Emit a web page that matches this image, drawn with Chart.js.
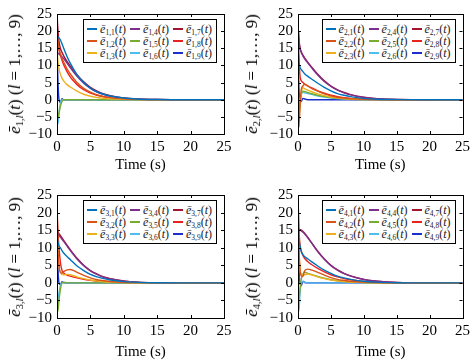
<!DOCTYPE html>
<html>
<head>
<meta charset="utf-8">
<script src="https://cdn.jsdelivr.net/npm/chart.js@4/dist/chart.umd.min.js"></script>
<style>
  body { margin: 0; width: 474px; height: 361px; background: #fff; position: relative; overflow: hidden; font-family: "Liberation Serif", serif; }
  .panel { position: absolute; }
  .panel canvas { position: absolute; left: 0; top: 0; }
  .ylab { position: absolute; white-space: nowrap; font-size: 17px; color: #000; transform: translate(-50%, -50%) rotate(-90deg); }
  sub { font-size: 0.62em; vertical-align: -0.3em; line-height: 0; }
  .legend { position: absolute; border: 1px solid #000; background: #fff; display: grid; grid-template-rows: repeat(3, 12px); grid-auto-flow: column; column-gap: 4px; padding: 3px 4px 3px 3px; font-size: 12px; line-height: 12px; color: #222; }
  .item { display: flex; align-items: center; white-space: nowrap; }
  .swatch { width: 10px; height: 1.5px; margin-right: 3px; }
</style>
</head>
<body>
<script>
// sample times (s)
const times = [0, 0.15, 0.3, 0.5, 0.75, 1, 1.5, 2, 3, 4, 5, 6, 7, 8, 10, 12, 15, 20, 25];

const colors = ['#0072BD', '#D95319', '#EDB120', '#7E2F8E', '#77AC30', '#4DBEEE', '#A2142F', '#E8221E', '#1A2FCC'];

// agent 1, l = 1..9
const e1 = [
  [18.5, 18.3, 18, 17.5, 16.3, 15, 12.6, 10.6, 7.3, 5, 3.4, 2.3, 1.6, 1.1, 0.5, 0.2, 0.05, 0, 0],
  [20, 17, 15, 13.5, 12, 11, 9, 7.5, 5, 3.3, 2.2, 1.4, 0.9, 0.6, 0.25, 0.1, 0.02, 0, 0],
  [15, 11, 9, 7.5, 6.3, 5.5, 4.4, 3.7, 2.5, 1.6, 1, 0.65, 0.4, 0.25, 0.1, 0.04, 0, 0, 0],
  [14, 13.6, 13.3, 13, 12.5, 12, 10.7, 9.3, 6.8, 4.8, 3.3, 2.2, 1.5, 1, 0.45, 0.2, 0.05, 0, 0],
  [0, -5, -4, -2, -0.5, 0, 0, 0, 0, 0, 0, 0, 0, 0, 0, 0, 0, 0, 0],
  [0, -7, -4, -1, 0, 0, 0, 0, 0, 0, 0, 0, 0, 0, 0, 0, 0, 0, 0],
  [25, 20, 17, 15, 13.8, 12.8, 11.2, 9.8, 7.2, 5.2, 3.6, 2.5, 1.7, 1.2, 0.5, 0.2, 0.05, 0, 0],
  [22, 17, 14.5, 13, 11.5, 10.2, 8.2, 6.6, 4.4, 2.9, 1.9, 1.3, 0.85, 0.55, 0.23, 0.1, 0.02, 0, 0],
  [15, 5, 0, -0.8, 0.3, 0, 0, 0, 0, 0, 0, 0, 0, 0, 0, 0, 0, 0, 0]
];

// agent 2
const e2 = [
  [15, 11, 9.5, 8.8, 8.2, 7.6, 6.8, 6.1, 4.8, 3.6, 2.6, 1.8, 1.3, 0.9, 0.4, 0.15, 0.04, 0, 0],
  [25, -8, -2, 3, 4, 4.5, 4, 3.4, 2.5, 1.7, 1.1, 0.7, 0.45, 0.3, 0.12, 0.04, 0, 0, 0],
  [10, -6, -2, 2, 3.5, 3.2, 2.8, 2.4, 1.7, 1.2, 0.8, 0.5, 0.33, 0.2, 0.08, 0.03, 0, 0, 0],
  [22, 17, 15, 13.8, 12.8, 12, 10.7, 9.5, 7.2, 5.3, 3.9, 2.8, 2, 1.4, 0.65, 0.3, 0.08, 0, 0],
  [0, -3, -2, 1.5, 2.5, 2.4, 2.1, 1.8, 1.3, 0.9, 0.6, 0.4, 0.25, 0.15, 0.06, 0.02, 0, 0, 0],
  [0, -4, -1, 1.5, 2.2, 2, 1.8, 1.6, 1.1, 0.75, 0.5, 0.33, 0.2, 0.13, 0.05, 0.02, 0, 0, 0],
  [22, 17.5, 15.3, 14, 13, 12.2, 10.9, 9.7, 7.4, 5.5, 4, 2.9, 2.1, 1.5, 0.7, 0.3, 0.08, 0, 0],
  [25, 12, 7, 5.5, 5, 4.6, 4, 3.5, 2.6, 1.9, 1.3, 0.9, 0.6, 0.4, 0.17, 0.07, 0.02, 0, 0],
  [12, 3, 0.5, -0.5, 0.4, 0.2, 0, 0, 0, 0, 0, 0, 0, 0, 0, 0, 0, 0, 0]
];

// agent 3
const e3 = [
  [13, 11.5, 10.5, 10, 9.2, 8.5, 7.5, 6.6, 4.8, 3.5, 2.4, 1.7, 1.2, 0.8, 0.35, 0.15, 0.04, 0, 0],
  [25, 10, 5, 3, 2.8, 3.2, 3.7, 3.8, 3, 2.1, 1.4, 0.9, 0.6, 0.4, 0.16, 0.06, 0.01, 0, 0],
  [15, 8, 4.5, 3, 2.4, 2.3, 2.4, 2.3, 1.7, 1.2, 0.8, 0.5, 0.33, 0.22, 0.09, 0.03, 0, 0, 0],
  [14, 14, 13.5, 13, 12.4, 11.8, 10.5, 9.2, 6.8, 4.9, 3.4, 2.4, 1.6, 1.1, 0.5, 0.2, 0.05, 0, 0],
  [0, -8, -5, -2, 0, 0.2, 0, 0, 0, 0, 0, 0, 0, 0, 0, 0, 0, 0, 0],
  [0, -5, -3, -0.8, 0, 0, 0, 0, 0, 0, 0, 0, 0, 0, 0, 0, 0, 0, 0],
  [15, 14.5, 14, 13.5, 12.8, 12.1, 10.7, 9.4, 7, 5, 3.5, 2.5, 1.7, 1.2, 0.55, 0.22, 0.06, 0, 0],
  [20, 14, 10, 6, 3.5, 2.8, 2.2, 1.9, 1.4, 1, 0.7, 0.45, 0.3, 0.2, 0.08, 0.03, 0, 0, 0],
  [15, 4, 0, -0.5, 0.3, 0, 0, 0, 0, 0, 0, 0, 0, 0, 0, 0, 0, 0, 0]
];

// agent 4
const e4 = [
  [14, 12, 10.5, 9, 8, 7.5, 6.8, 6.1, 4.8, 3.6, 2.7, 1.9, 1.4, 1, 0.45, 0.2, 0.05, 0, 0],
  [25, 10, 4, 2, 1.8, 3.4, 3.9, 3.7, 3, 2.2, 1.5, 1, 0.7, 0.45, 0.2, 0.08, 0.02, 0, 0],
  [18, 9, 4, 2.5, 2.2, 2.3, 2.5, 2.3, 1.7, 1.2, 0.8, 0.55, 0.36, 0.24, 0.1, 0.04, 0, 0, 0],
  [14, 15, 15, 14.8, 14.4, 14, 12.8, 11.5, 8.9, 6.7, 4.9, 3.6, 2.6, 1.9, 0.95, 0.45, 0.12, 0, 0],
  [0, -5, -2, 1, 2.5, 3, 2.7, 2.4, 1.8, 1.3, 0.9, 0.6, 0.4, 0.27, 0.1, 0.04, 0, 0, 0],
  [17, -8, -3, 0, 0.3, 0.2, 0, 0, 0, 0, 0, 0, 0, 0, 0, 0, 0, 0, 0],
  [14, 15.2, 15.2, 15, 14.6, 14.1, 12.9, 11.6, 9, 6.8, 5, 3.7, 2.7, 2, 1, 0.5, 0.13, 0, 0],
  [25, 15, 11, 9, 7.8, 7, 6, 5.3, 4.1, 3.1, 2.3, 1.7, 1.2, 0.9, 0.4, 0.18, 0.05, 0, 0],
  [14, 4, 0, -0.8, 0.5, 0.1, 0, 0, 0, 0, 0, 0, 0, 0, 0, 0, 0, 0, 0]
];

const xTicks = [0, 5, 10, 15, 20, 25];
const yTicks = [-10, -5, 0, 5, 10, 15, 20, 25];

// box + inward ticks, like the matlab axes
const boxPlugin = {
  id: 'box',
  afterDatasetsDraw(chart) {
    const { ctx, chartArea: a, scales } = chart;
    ctx.save();
    ctx.strokeStyle = '#000';
    ctx.lineWidth = 1;
    ctx.beginPath();
    xTicks.forEach(v => {
      const px = Math.round(scales.x.getPixelForValue(v)) + 0.5;
      ctx.moveTo(px, a.bottom); ctx.lineTo(px, a.bottom - 3);
      ctx.moveTo(px, a.top); ctx.lineTo(px, a.top + 3);
    });
    yTicks.forEach(v => {
      const py = Math.round(scales.y.getPixelForValue(v)) + 0.5;
      ctx.moveTo(a.left, py); ctx.lineTo(a.left + 3, py);
      ctx.moveTo(a.right, py); ctx.lineTo(a.right - 3, py);
    });
    ctx.stroke();
    ctx.strokeRect(Math.round(a.left) + 0.5, Math.round(a.top) + 0.5, Math.round(a.right - a.left), Math.round(a.bottom - a.top));
    ctx.restore();
  }
};

const panels = [
  { k: 1, data: e1, x: 0, y: 0, w: 237, h: 180, left: 57, top: 9, right: 224, bottom: 134, titlePad: 6 },
  { k: 2, data: e2, x: 237, y: 0, w: 237, h: 180, left: 61, top: 9, right: 228, bottom: 134, titlePad: 6 },
  { k: 3, data: e3, x: 0, y: 180, w: 237, h: 181, left: 57, top: 15, right: 224, bottom: 138, titlePad: 0 },
  { k: 4, data: e4, x: 237, y: 180, w: 237, h: 181, left: 61, top: 15, right: 228, bottom: 138, titlePad: 0 }
];

const font = { family: '"Liberation Serif", "Times New Roman", serif', size: 15 };

function eLabel(k, sub) {
  return '<span><i>ē</i><sub>' + k + ',' + sub + '</sub>(<i>t</i>)</span>';
}

panels.forEach(p => {
  const div = document.createElement('div');
  div.className = 'panel';
  div.style.cssText = `left:${p.x}px;top:${p.y}px;width:${p.w}px;height:${p.h}px`;
  document.body.appendChild(div);
  const canvas = document.createElement('canvas');
  canvas.width = p.w; canvas.height = p.h;
  div.appendChild(canvas);

  const chart = new Chart(canvas, {
    type: 'line',
    data: {
      datasets: p.data.map((vals, i) => ({
        label: 'e' + p.k + ',' + (i + 1),
        data: times.map((t, j) => ({ x: t, y: vals[j] })),
        borderColor: colors[i],
        borderWidth: 1.4,
        pointRadius: 0,
        cubicInterpolationMode: 'monotone'
      }))
    },
    options: {
      responsive: false,
      animation: false,
      devicePixelRatio: 1,
      layout: { padding: { left: 0, top: p.top, right: p.w - p.right, bottom: 0 } },
      plugins: { legend: { display: false }, tooltip: { enabled: false } },
      scales: {
        x: {
          type: 'linear', min: 0, max: 25,
          afterBuildTicks: s => { s.ticks = xTicks.map(v => ({ value: v })); },
          ticks: { color: '#000', font, padding: 4, maxRotation: 0, autoSkip: false },
          grid: { display: false, drawTicks: false },
          border: { display: false },
          title: { display: true, text: 'Time (s)', color: '#000', font, padding: { top: 0, bottom: p.titlePad } },
          afterFit: s => { s.height = p.h - p.bottom; }
        },
        y: {
          min: -10, max: 25,
          afterBuildTicks: s => { s.ticks = yTicks.map(v => ({ value: v })); },
          ticks: { color: '#000', font, padding: 5, autoSkip: false, callback: v => v < 0 ? '\u2212' + (-v) : String(v) },
          grid: { display: false, drawTicks: false },
          border: { display: false },
          afterFit: s => { s.width = p.left; }
        }
      }
    },
    plugins: [boxPlugin]
  });

  const a = chart.chartArea;

  // y axis title
  const yl = document.createElement('div');
  yl.className = 'ylab';
  yl.innerHTML = '<i>ē</i><sub>' + p.k + ',<i>l</i></sub>(<i>t</i>) (<i>l</i> = 1,…, 9)';
  yl.style.left = '15px';
  yl.style.top = ((a.top + a.bottom) / 2) + 'px';
  div.appendChild(yl);

  // legend, 3 columns filled top to bottom
  const lg = document.createElement('div');
  lg.className = 'legend';
  chart.data.datasets.forEach((ds, i) => {
    const it = document.createElement('div');
    it.className = 'item';
    it.innerHTML = '<span class="swatch" style="background:' + ds.borderColor + '"></span>' + eLabel(p.k, i + 1);
    lg.appendChild(it);
  });
  lg.style.right = (p.w - a.right + 7) + 'px';
  lg.style.top = (a.top + 5) + 'px';
  div.appendChild(lg);
});
</script>
</body>
</html>
